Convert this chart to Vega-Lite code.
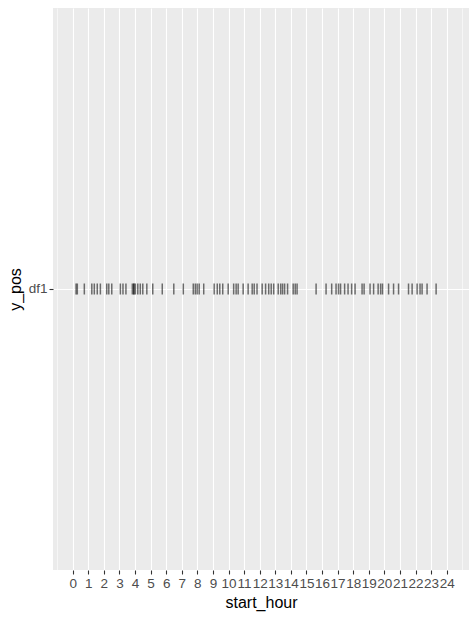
{
  "$schema": "https://vega.github.io/schema/vega-lite/v6.json",
  "description": "Strip of start hours for df1, drawn as ggplot-style ticks.",
  "width": 416,
  "height": 562,
  "autosize": "none",
  "padding": {"left": 53, "top": 8, "right": 5, "bottom": 49},
  "background": "white",
  "config": {
    "view": {"fill": "#EBEBEB", "stroke": null},
    "font": "Liberation Sans",
    "axis": {
      "domain": false,
      "gridColor": "white",
      "tickColor": "#333333",
      "tickSize": 4,
      "tickWidth": 1.1,
      "labelColor": "#4D4D4D",
      "labelFont": "Liberation Sans",
      "labelFontSize": 13.5,
      "titleFont": "Liberation Sans",
      "titleFontSize": 16,
      "titleFontWeight": "normal",
      "titleColor": "black"
    }
  },
  "data": {
    "values": [
      {"start_hour": 0.22, "y_pos": "df1"}, {"start_hour": 0.30, "y_pos": "df1"},
      {"start_hour": 0.75, "y_pos": "df1"}, {"start_hour": 1.23, "y_pos": "df1"},
      {"start_hour": 1.39, "y_pos": "df1"}, {"start_hour": 1.58, "y_pos": "df1"},
      {"start_hour": 1.78, "y_pos": "df1"}, {"start_hour": 2.19, "y_pos": "df1"},
      {"start_hour": 2.32, "y_pos": "df1"}, {"start_hour": 2.51, "y_pos": "df1"},
      {"start_hour": 3.06, "y_pos": "df1"}, {"start_hour": 3.23, "y_pos": "df1"},
      {"start_hour": 3.42, "y_pos": "df1"}, {"start_hour": 3.83, "y_pos": "df1"},
      {"start_hour": 3.92, "y_pos": "df1"}, {"start_hour": 3.93, "y_pos": "df1"},
      {"start_hour": 4.02, "y_pos": "df1"}, {"start_hour": 4.18, "y_pos": "df1"},
      {"start_hour": 4.34, "y_pos": "df1"}, {"start_hour": 4.50, "y_pos": "df1"},
      {"start_hour": 4.76, "y_pos": "df1"}, {"start_hour": 5.14, "y_pos": "df1"},
      {"start_hour": 5.75, "y_pos": "df1"}, {"start_hour": 6.49, "y_pos": "df1"},
      {"start_hour": 7.10, "y_pos": "df1"}, {"start_hour": 7.74, "y_pos": "df1"},
      {"start_hour": 7.87, "y_pos": "df1"}, {"start_hour": 7.99, "y_pos": "df1"},
      {"start_hour": 8.12, "y_pos": "df1"}, {"start_hour": 8.41, "y_pos": "df1"},
      {"start_hour": 9.08, "y_pos": "df1"}, {"start_hour": 9.28, "y_pos": "df1"},
      {"start_hour": 9.44, "y_pos": "df1"}, {"start_hour": 9.63, "y_pos": "df1"},
      {"start_hour": 9.98, "y_pos": "df1"}, {"start_hour": 10.33, "y_pos": "df1"},
      {"start_hour": 10.49, "y_pos": "df1"}, {"start_hour": 10.62, "y_pos": "df1"},
      {"start_hour": 10.94, "y_pos": "df1"}, {"start_hour": 11.26, "y_pos": "df1"},
      {"start_hour": 11.52, "y_pos": "df1"}, {"start_hour": 11.65, "y_pos": "df1"},
      {"start_hour": 11.83, "y_pos": "df1"}, {"start_hour": 12.16, "y_pos": "df1"},
      {"start_hour": 12.38, "y_pos": "df1"}, {"start_hour": 12.58, "y_pos": "df1"},
      {"start_hour": 12.74, "y_pos": "df1"}, {"start_hour": 12.90, "y_pos": "df1"},
      {"start_hour": 13.19, "y_pos": "df1"}, {"start_hour": 13.35, "y_pos": "df1"},
      {"start_hour": 13.47, "y_pos": "df1"}, {"start_hour": 13.60, "y_pos": "df1"},
      {"start_hour": 13.79, "y_pos": "df1"}, {"start_hour": 14.15, "y_pos": "df1"},
      {"start_hour": 14.28, "y_pos": "df1"}, {"start_hour": 14.40, "y_pos": "df1"},
      {"start_hour": 15.62, "y_pos": "df1"}, {"start_hour": 16.26, "y_pos": "df1"},
      {"start_hour": 16.62, "y_pos": "df1"}, {"start_hour": 16.90, "y_pos": "df1"},
      {"start_hour": 17.06, "y_pos": "df1"}, {"start_hour": 17.19, "y_pos": "df1"},
      {"start_hour": 17.45, "y_pos": "df1"}, {"start_hour": 17.67, "y_pos": "df1"},
      {"start_hour": 17.90, "y_pos": "df1"}, {"start_hour": 18.12, "y_pos": "df1"},
      {"start_hour": 18.57, "y_pos": "df1"}, {"start_hour": 18.70, "y_pos": "df1"},
      {"start_hour": 19.08, "y_pos": "df1"}, {"start_hour": 19.31, "y_pos": "df1"},
      {"start_hour": 19.60, "y_pos": "df1"}, {"start_hour": 19.76, "y_pos": "df1"},
      {"start_hour": 19.88, "y_pos": "df1"}, {"start_hour": 20.27, "y_pos": "df1"},
      {"start_hour": 20.59, "y_pos": "df1"}, {"start_hour": 20.91, "y_pos": "df1"},
      {"start_hour": 21.55, "y_pos": "df1"}, {"start_hour": 21.78, "y_pos": "df1"},
      {"start_hour": 22.10, "y_pos": "df1"}, {"start_hour": 22.29, "y_pos": "df1"},
      {"start_hour": 22.42, "y_pos": "df1"}, {"start_hour": 22.74, "y_pos": "df1"},
      {"start_hour": 23.32, "y_pos": "df1"}
    ]
  },
  "mark": {"type": "tick", "color": "black", "opacity": 0.55, "thickness": 1.5, "size": 11},
  "encoding": {
    "x": {
      "field": "start_hour",
      "type": "quantitative",
      "title": "start_hour",
      "scale": {"domain": [-1.26, 25.43], "nice": false, "zero": false},
      "axis": {
        "values": [-1, -0.5, 0, 0.5, 1, 1.5, 2, 2.5, 3, 3.5, 4, 4.5, 5, 5.5, 6, 6.5, 7, 7.5, 8, 8.5, 9, 9.5, 10, 10.5, 11, 11.5, 12, 12.5, 13, 13.5, 14, 14.5, 15, 15.5, 16, 16.5, 17, 17.5, 18, 18.5, 19, 19.5, 20, 20.5, 21, 21.5, 22, 22.5, 23, 23.5, 24, 24.5, 25],
        "format": "d",
        "labelExpr": "datum.value % 1 === 0 && datum.value >= 0 && datum.value <= 24 ? format(datum.value, 'd') : ''",
        "labelOverlap": false,
        "labelBound": false,
        "labelFlush": false,
        "labelPadding": 2,
        "titlePadding": 5,
        "gridWidth": {"condition": {"test": "datum.value % 1 === 0 && datum.value >= 0 && datum.value <= 24", "value": 1.1}, "value": 0.55},
        "tickOpacity": {"condition": {"test": "datum.value % 1 === 0 && datum.value >= 0 && datum.value <= 24", "value": 1}, "value": 0}
      }
    },
    "y": {
      "field": "y_pos",
      "type": "nominal",
      "title": "y_pos",
      "axis": {"grid": true, "gridWidth": 1.1, "labelPadding": 2, "titlePadding": 5, "labelAngle": 0}
    }
  }
}
